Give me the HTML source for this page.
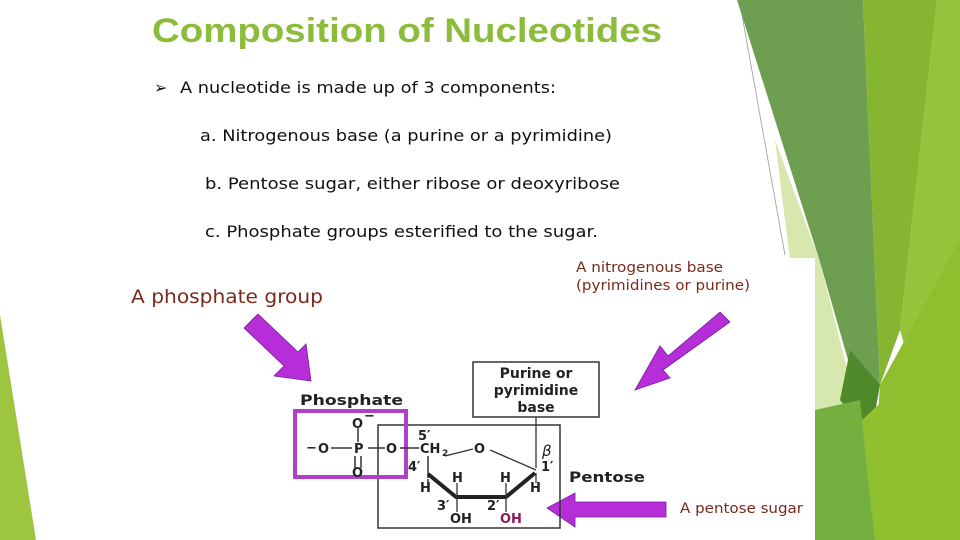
<!DOCTYPE html>
<html><head><meta charset="utf-8"><style>html,body{margin:0;padding:0;background:#fff}svg{display:block}</style></head>
<body>
<svg width="960" height="540" viewBox="0 0 960 540" xmlns="http://www.w3.org/2000/svg">
<rect width="960" height="540" fill="#fff"/>
<!-- right decoration -->
<polygon points="775,140 820,262 860,420 815,420 790,260" fill="#d7e8ae"/>
<polygon points="737,0 863,0 880,385 868,430 820,262" fill="#6e9e50"/>
<polygon points="863,0 937,0 900,330 880,385" fill="#86b532"/>
<polygon points="937,0 960,0 960,540 900,330" fill="#95c43a"/>
<polygon points="880,385 960,240 960,540 870,540" fill="#8fbe2e"/>
<polygon points="850,350 880,385 870,440 840,400" fill="#4e8a2a"/>
<polygon points="815,410 860,400 875,540 815,540" fill="#74b040"/>
<polygon points="862,420 905,380 960,290 960,540 875,540" fill="#90c030"/>
<line x1="742" y1="15" x2="785" y2="255" stroke="#999" stroke-width="0.8"/>
<!-- left triangle -->
<polygon points="0,315 36,540 0,540" fill="#9dc540"/>
<!-- image area -->
<rect x="100" y="258" width="715" height="282" fill="#fff"/>
<rect x="560" y="250" width="210" height="10" fill="#fff"/>
<!-- title & bullets -->
<text x="152" y="42" font-family="Liberation Sans, sans-serif" font-weight="bold" font-size="34" fill="#8cbc3c" textLength="510" lengthAdjust="spacingAndGlyphs">Composition of Nucleotides</text>
<g font-family="DejaVu Sans, sans-serif" font-size="16" fill="#111">
<text x="154" y="93">➢</text>
<text x="180" y="93" textLength="376" lengthAdjust="spacingAndGlyphs">A nucleotide is made up of 3 components:</text>
<text x="200" y="141" textLength="412" lengthAdjust="spacingAndGlyphs">a. Nitrogenous base (a purine or a pyrimidine)</text>
<text x="205" y="189" textLength="415" lengthAdjust="spacingAndGlyphs">b. Pentose sugar, either ribose or deoxyribose</text>
<text x="205" y="237" textLength="393" lengthAdjust="spacingAndGlyphs">c. Phosphate groups esterified to the sugar.</text>
</g>
<!-- handwriting labels -->
<g font-family="DejaVu Sans, sans-serif" fill="#7a2a1a">
<text x="131" y="303" font-size="19" textLength="192" lengthAdjust="spacingAndGlyphs">A phosphate group</text>
<text x="576" y="272" font-size="14" textLength="147" lengthAdjust="spacingAndGlyphs">A nitrogenous base</text>
<text x="576" y="290" font-size="14" textLength="174" lengthAdjust="spacingAndGlyphs">(pyrimidines or purine)</text>
<text x="680" y="513" font-size="14" textLength="123" lengthAdjust="spacingAndGlyphs">A pentose sugar</text>
</g>
<!-- arrows -->
<g fill="#b52ed8" stroke="#7a1a9a" stroke-width="0.8">
<polygon points="244,328 258,314 298,352 306,344 311,381 274,376 284,366"/>
<polygon points="730,322 720,312 668,356 660,346 635,390 670,378 663,370"/>
<polygon points="666,502 575,502 575,493 547,508 575,527 575,517 666,517"/>
</g>
<!-- chemistry -->
<g stroke="#333" fill="none">
<rect x="473" y="362" width="126" height="55" stroke-width="1.5"/>
<rect x="378" y="425" width="182" height="103" stroke-width="1.5"/>
<rect x="295" y="411" width="111" height="66" stroke="#b040c8" stroke-width="4"/>
<line x1="536" y1="417" x2="536" y2="468" stroke-width="1.3"/>
<line x1="358" y1="428" x2="358" y2="442" stroke-width="1.5"/>
<line x1="355" y1="456" x2="355" y2="468" stroke-width="1.5"/>
<line x1="361" y1="456" x2="361" y2="468" stroke-width="1.5"/>
<line x1="331" y1="448" x2="352" y2="448" stroke-width="1.5"/>
<line x1="368" y1="448" x2="385" y2="448" stroke-width="1.5"/>
<line x1="400" y1="448" x2="419" y2="448" stroke-width="1.5"/>
<line x1="428" y1="456" x2="428" y2="478" stroke-width="1.5"/>
<line x1="428" y1="479" x2="428" y2="484" stroke-width="1.5"/>
<line x1="445" y1="456" x2="473" y2="449" stroke-width="1.3"/>
<line x1="490" y1="450" x2="536" y2="470" stroke-width="1.3"/>
<polyline points="428,474 456,497 506,497 535,473" stroke="#222" stroke-width="4" stroke-linejoin="round"/>
<line x1="457" y1="483" x2="457" y2="497" stroke-width="1.3"/>
<line x1="506" y1="483" x2="506" y2="497" stroke-width="1.3"/>
<line x1="536" y1="473" x2="536" y2="483" stroke-width="1.3"/>
<line x1="457" y1="497" x2="457" y2="512" stroke-width="1.3"/>
<line x1="506" y1="497" x2="506" y2="512" stroke-width="1.3"/>
</g>
<g font-family="DejaVu Sans, sans-serif" font-weight="bold" fill="#222" font-size="14">
<text x="300" y="405" textLength="103" lengthAdjust="spacingAndGlyphs">Phosphate</text>
<text x="536" y="378" text-anchor="middle">Purine  or</text>
<text x="536" y="395" text-anchor="middle">pyrimidine</text>
<text x="536" y="412" text-anchor="middle">base</text>
<text x="569" y="482" textLength="76" lengthAdjust="spacingAndGlyphs">Pentose</text>
<g font-size="13">
<text x="352" y="428">O</text><text x="364" y="420">−</text>
<text x="306" y="452">−</text><text x="318" y="453">O</text>
<text x="354" y="453">P</text>
<text x="386" y="453">O</text>
<text x="420" y="453">CH</text><text x="442" y="456" font-size="9">2</text>
<text x="418" y="440">5′</text>
<text x="474" y="453">O</text>
<text x="352" y="477">O</text>
<text x="408" y="471">4′</text>
<text x="541" y="471">1′</text>
<text x="452" y="482">H</text>
<text x="500" y="482">H</text>
<text x="420" y="492">H</text>
<text x="530" y="492">H</text>
<text x="437" y="510">3′</text>
<text x="487" y="510">2′</text>
<text x="450" y="523">OH</text>
<text x="500" y="523" fill="#8b1a5a">OH</text>
</g>
<text x="542" y="456" font-weight="normal" font-style="italic" font-size="15">β</text>
</g>
</svg>
</body></html>
